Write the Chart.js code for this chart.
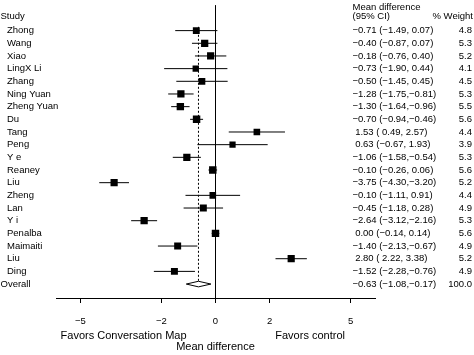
<!DOCTYPE html>
<html><head><meta charset="utf-8">
<script src="https://cdn.jsdelivr.net/npm/chart.js@4"></script>
<style>html,body{margin:0;padding:0;background:#fff;overflow:hidden}#wrap{width:474px;height:355px}</style>
</head><body><div id="wrap"><canvas id="c" width="474" height="355"></canvas></div>
<script>
// ---- data ----
const studies = ["Zhong","Wang","Xiao","LingX Li","Zhang","Ning Yuan","Zheng Yuan","Du","Tang","Peng","Y e","Reaney","Liu","Zheng","Lan","Y i","Penalba","Maimaiti","Liu","Ding"];
const means   = [-0.71,-0.40,-0.18,-0.73,-0.50,-1.28,-1.30,-0.70,1.53,0.63,-1.06,-0.10,-3.75,-0.10,-0.45,-2.64,0.00,-1.40,2.80,-1.52];
const lower   = [-1.49,-0.87,-0.76,-1.90,-1.45,-1.75,-1.64,-0.94,0.49,-0.67,-1.58,-0.26,-4.30,-1.11,-1.18,-3.12,-0.14,-2.13,2.22,-2.28];
const upper   = [0.07,0.07,0.40,0.44,0.45,-0.81,-0.96,-0.46,2.57,1.93,-0.54,0.06,-3.20,0.91,0.28,-2.16,0.14,-0.67,3.38,-0.76];
const weights = [4.8,5.3,5.2,4.1,4.5,5.3,5.5,5.6,4.4,3.9,5.3,5.6,5.2,4.4,4.9,5.3,5.6,4.9,5.2,4.9];
const overallLabel = "Overall";
const overallMean = -0.63, overallLower = -1.08, overallUpper = -0.17, overallWeight = 100.0;
const xTicks = [-5,-2,0,2,5];
const headers = {study:"Study", md1:"Mean difference", md2:"(95% CI)", weight:"% Weight"};
const axisTitle = "Mean difference";
const favorsLeft = "Favors Conversation Map";
const favorsRight = "Favors control";

// ---- helpers ----
const FONT = "'Liberation Sans', Arial, Helvetica, sans-serif";
const TXT = 9.5;
const fmt = v => (v < 0 ? "\u2212" : "") + Math.abs(v).toFixed(2);
const pad = v => (v < 0 ? "" : " ") + fmt(v);
const ciText = (m, l, u) => pad(m) + " (" + pad(l) + "," + pad(u) + ")";
const n = studies.length;
const overallRow = n;

const datasets = [];
// squares
datasets.push({
  type: 'scatter',
  data: means.map((m, i) => ({x: m, y: i})),
  pointStyle: 'rect',
  pointRadius: weights.map(w => 3.15 * Math.sqrt(w) / Math.SQRT2),
  pointBackgroundColor: '#000', pointBorderWidth: 0, borderColor: '#000'
});
// diamond
const dh = 0.22;
datasets.push({
  type: 'line',
  data: [{x: overallLower, y: overallRow}, {x: overallMean, y: overallRow - dh}, {x: overallUpper, y: overallRow}, {x: overallMean, y: overallRow + dh}, {x: overallLower, y: overallRow}],
  borderColor: '#000', borderWidth: 1, pointRadius: 0, fill: false, backgroundColor: '#fff'
});
// CI lines
for (let i = 0; i < n; i++) {
  datasets.push({
    type: 'line',
    data: [{x: lower[i], y: i}, {x: upper[i], y: i}],
    borderColor: '#000', borderWidth: 1, pointRadius: 0
  });
}
// dashed overall line
datasets.push({
  type: 'line',
  data: [{x: overallMean, y: -0.3}, {x: overallMean, y: overallRow - dh}],
  borderColor: '#000', borderWidth: 1, borderDash: [2, 2], pointRadius: 0
});
// zero line
datasets.push({
  type: 'line',
  data: [{x: 0, y: -2}, {x: 0, y: 21.1}],
  borderColor: '#000', borderWidth: 1, pointRadius: 0
});

const textPlugin = {
  id: 'forestText',
  afterDraw(chart) {
    const ctx = chart.ctx, y = chart.scales.y, x = chart.scales.x, ca = chart.chartArea;
    ctx.save();
    ctx.fillStyle = '#000';
    ctx.textBaseline = 'middle';
    ctx.font = TXT + 'px ' + FONT;
    // headers
    ctx.textAlign = 'left';
    ctx.fillText(headers.study, 0.5, y.getPixelForValue(-1.09));
    ctx.fillText(headers.md1, 352.5, y.getPixelForValue(-1.8));
    ctx.fillText(headers.md2, 352.5, y.getPixelForValue(-1.1));
    ctx.textAlign = 'right';
    ctx.fillText(headers.weight, 473, y.getPixelForValue(-1.1));
    // rows
    for (let i = 0; i < n; i++) {
      const py = y.getPixelForValue(i);
      ctx.textAlign = 'left';
      ctx.fillText(studies[i], 7, py);
      ctx.fillText(ciText(means[i], lower[i], upper[i]), 352.5, py);
      ctx.textAlign = 'right';
      ctx.fillText(weights[i].toFixed(1), 472, py);
    }
    const po = y.getPixelForValue(overallRow);
    ctx.textAlign = 'left';
    ctx.fillText(overallLabel, 0.5, po);
    ctx.fillText(ciText(overallMean, overallLower, overallUpper), 352.5, po);
    ctx.textAlign = 'right';
    ctx.fillText(overallWeight.toFixed(1), 472, po);
    // favors labels
    ctx.font = '11px ' + FONT;
    ctx.textAlign = 'center';
    ctx.fillText(favorsLeft, x.getPixelForValue(-3.4), ca.bottom + 37.5);
    ctx.fillText(favorsRight, x.getPixelForValue(3.5), ca.bottom + 37.5);
    ctx.restore();
  }
};

new Chart(document.getElementById('c'), {
  data: {datasets},
  plugins: [textPlugin],
  options: {
    responsive: false, animation: false,
    layout: {padding: {left: 56, right: 99, top: 1, bottom: 0}},
    elements: {line: {tension: 0}},
    plugins: {legend: {display: false}, tooltip: {enabled: false}},
    scales: {
      x: {
        type: 'linear', min: -5.9, max: 5.9,
        afterBuildTicks: s => { s.ticks = xTicks.map(v => ({value: v})); },
        afterFit: s => { s.height = 57; },
        grid: {display: true, drawOnChartArea: false, drawTicks: true, tickLength: 5, color: '#000', lineWidth: 1},
        border: {display: true, color: '#000', width: 1},
        ticks: {color: '#000', font: {family: FONT, size: 9.5}, padding: 13, maxRotation: 0, autoSkip: false,
                callback: v => (v < 0 ? "\u2212" : "") + Math.abs(v)},
        title: {display: true, text: axisTitle, color: '#000', font: {family: FONT, size: 11}, padding: {top: 0, bottom: 1}}
      },
      y: {type: 'linear', reverse: true, min: -2, max: 21.1, display: false}
    }
  }
});
</script></body></html>
